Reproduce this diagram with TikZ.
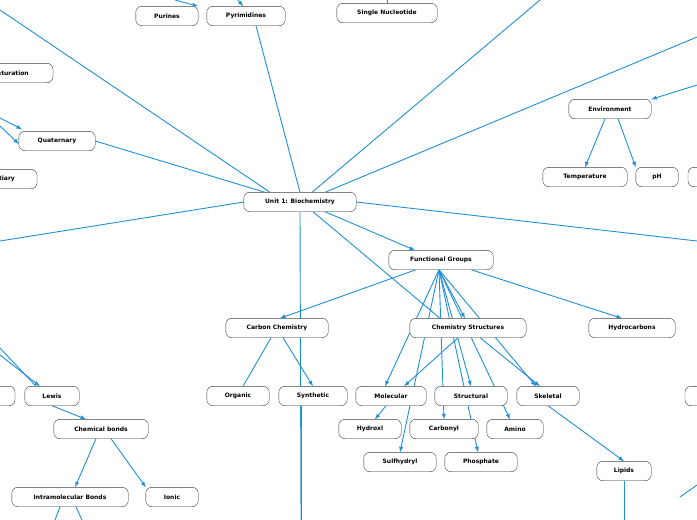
\documentclass[tikz,border=0pt]{standalone}
\usepackage{fontspec}
\setmainfont{DejaVu Sans}
\definecolor{lc}{HTML}{1E8FD8}
\begin{document}
\begin{tikzpicture}[x=1pt,y=-1pt,
 box/.style={draw=black!70,rounded corners=6pt,fill=white,inner sep=0pt,minimum height=19pt,font=\bfseries\fontsize{6}{7}\selectfont},
 ln/.style={draw=lc,line width=0.9pt},
 ar/.style={ln,-latex}]
\useasboundingbox (0,0) rectangle (697,520);
\coordinate (tl) at (0,10); \coordinate (t1) at (540,0); \coordinate (t2) at (697,37);
\coordinate (l1) at (0,241); \coordinate (r1) at (697,241); \coordinate (b1) at (301,520);
\coordinate (b2) at (624,520); \coordinate (rE) at (697,85);
\node[box,minimum width=62pt] (pur) at (167,16) {};
\node[box,minimum width=78pt] (pyr) at (246,16) {};
\node[box,minimum width=100pt] (sn) at (387,13) {};
\node[box,minimum width=84pt,anchor=east] (sat) at (53,73) {};
\node[box,minimum width=76pt] (qua) at (57,141) {};
\node[box,minimum width=70pt,anchor=east] (ter) at (37,179) {};
\node[box,minimum width=82pt] (env) at (610,109) {};
\node[box,minimum width=84pt] (tem) at (585,177) {};
\node[box,minimum width=42pt] (ph) at (657,177) {};
\node[box,minimum width=40pt,anchor=west] (rx) at (688,177) {};
\node[box,minimum width=112pt] (u) at (300,202) {};
\node[box,minimum width=104pt] (fg) at (441,260) {};
\node[box,minimum width=102pt] (cc) at (277,328) {};
\node[box,minimum width=116pt] (cs) at (468,328) {};
\node[box,minimum width=86pt] (hc) at (632,328) {};
\node[box,minimum width=62pt] (org) at (238,396) {};
\node[box,minimum width=68pt] (syn) at (313,396) {};
\node[box,minimum width=70pt] (mol) at (391,396) {};
\node[box,minimum width=72pt] (str) at (471,396) {};
\node[box,minimum width=62pt] (ske) at (548,396) {};
\node[box,minimum width=62pt] (hyd) at (370,429) {};
\node[box,minimum width=68pt] (car) at (444,429) {};
\node[box,minimum width=56pt] (ami) at (515,429) {};
\node[box,minimum width=72pt] (sul) at (400,462) {};
\node[box,minimum width=72pt] (pho) at (481,462) {};
\node[box,minimum width=54pt] (lip) at (624,471) {};
\node[box,minimum width=54pt] (lew) at (52,396) {};
\node[box,minimum width=40pt,anchor=east] (lx) at (15,396) {};
\node[box,minimum width=40pt,anchor=west] (rx2) at (685,396) {};
\node[box,minimum width=94pt] (cb) at (101,429) {};
\node[box,minimum width=116pt] (ib) at (70,497) {};
\node[box,minimum width=52pt] (ion) at (172,497) {};
% connectors
\path[ln] (tl) -- ([xshift=-30pt]u.north);
\path[ln] (qua.east) -- ([xshift=-35pt]u.north);
\path[ln] ([xshift=12pt]u.north) -- (t1);
\path[ln] ([xshift=25pt]u.north) -- (t2);
\path[ln] (u.north) -- ([xshift=10pt]pyr.south);
\path[ln] (u.west) -- (l1);
\path[ln] (u.east) -- (r1);
\path[ar] ([xshift=25pt]u.south) -- ([xshift=-26pt]fg.north);
\path[ln] ([xshift=13pt]u.south) -- ([xshift=-28pt]cs.north);
\path[ln] (u.south) -- (b1);
\path[ar] ([xshift=-25pt]fg.south) -- ([xshift=3pt]cc.north);
\path[ar] ([xshift=30pt]fg.south) -- ([xshift=-10pt]hc.north);
\foreach \t/\d in {mol/-6,sul/0,car/0,str/0,pho/-3,ami/-5,ske/-12,cs/-3}
 \path[ar] ([xshift=-2pt]fg.south) -- ([xshift=\d pt]\t.north);
\path[ar] ([xshift=-10pt]cs.south) -- ([xshift=13pt]mol.north);
\path[ar] ([xshift=12pt]cs.south) -- ([xshift=-8pt]ske.north);
\path[ar] ([xshift=-5pt]mol.south) -- ([xshift=5pt]hyd.north);
\path[ln] ([xshift=-6pt]cc.south) -- ([xshift=5pt]org.north);
\path[ar] ([xshift=6pt]cc.south) -- (syn.north);
\path[ln] ([xshift=-12pt]syn.south) -- (b1);
\path[ar] (ske.south) -- (lip.north);
\path[ln] (lip.south) -- (b2);
\path[ar] (rE) -- (env.north east);
\path[ar] ([xshift=-5pt]env.south) -- (tem.north);
\path[ar] ([xshift=8pt]env.south) -- (ph.north west);
\path[ar] (175,0) -- (pur.north east);
\path[ar] (238,0) -- ([xshift=-3pt]pyr.north);
\path[ar] (387,0) -- (sn.south);
\path[ar] (0,118) -- ([xshift=-35pt,yshift=2pt]qua.north);
\path[ar] (0,126) -- ([yshift=-3pt]qua.west);
\path[ar] (0,355) -- ([xshift=-12pt]lew.north);
\path[ln] (0,348) -- ([xshift=-16pt]lew.north);
\path[ar] (lew.south) -- ([xshift=-15pt]cb.north);
\path[ar] ([xshift=-5pt]cb.south) -- ([xshift=5pt]ib.north);
\path[ar] ([xshift=10pt]cb.south) -- (ion.north west);
\path[ln] ([xshift=-10pt]ib.south) -- (55,520);
\path[ln] ([xshift=6pt]ib.south) -- (82,520);
\path[ln] (697,485) -- (680,497);
% nodes on top
\foreach \n in {pur,pyr,sn,sat,qua,ter,env,tem,ph,rx,u,fg,cc,cs,hc,org,syn,mol,str,ske,hyd,car,ami,sul,pho,lip,lew,lx,rx2,cb,ib,ion}
 \path[draw=black!70,rounded corners=6pt,fill=white] (\n.south west) rectangle (\n.north east);
\foreach \n/\t in {pur/Purines,pyr/Pyrimidines,sn/Single Nucleotide,sat/Saturation,qua/Quaternary,ter/Tertiary,env/Environment,tem/Temperature,ph/pH,u/Unit 1: Biochemistry,fg/Functional Groups,cc/Carbon Chemistry,cs/Chemistry Structures,hc/Hydrocarbons,org/Organic,syn/Synthetic,mol/Molecular,str/Structural,ske/Skeletal,hyd/Hydroxl,car/Carbonyl,ami/Amino,sul/Sulfhydryl,pho/Phosphate,lip/Lipids,lew/Lewis,cb/Chemical bonds,ib/Intramolecular Bonds,ion/Ionic}
 \node[font=\bfseries\fontsize{6}{7}\selectfont] at (\n) {\t};
\end{tikzpicture}
\end{document}
